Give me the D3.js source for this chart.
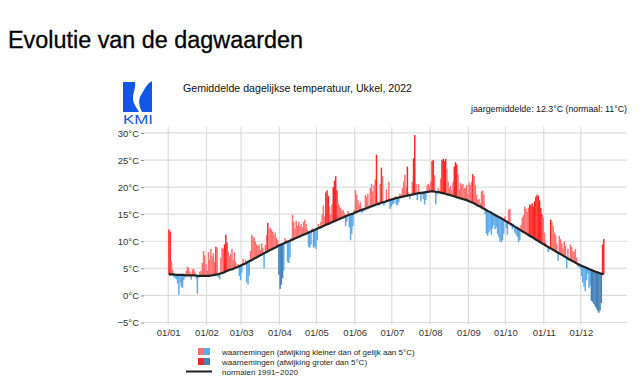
<!DOCTYPE html>
<html>
<head>
<meta charset="utf-8">
<script src="https://cdn.jsdelivr.net/npm/d3@7"></script>
<style>
  body { margin: 0; background: #fff; }
  text { font-family: "Liberation Sans", Arial, sans-serif; }
</style>
</head>
<body>
<div id="my_dataviz"></div>
<script>

// month labels and the day index (0 = 1 Jan) where each month starts
var maanden = ["01/01", "01/02", "01/03", "01/04", "01/05", "01/06", "01/07", "01/08", "01/09", "01/10", "01/11", "01/12"];
var maandStart = [0, 31, 59, 90, 120, 151, 181, 212, 243, 273, 304, 334];

var yTicks = [-5, 0, 5, 10, 15, 20, 25, 30];
var yLabels = ["\u22125°C", "0°C", "5°C", "10°C", "15°C", "20°C", "25°C", "30°C"];

// daily mean temperature Ukkel 2022 (1 Jan - 19 Dec)
var temp = [
  12.2, 11.8, 6.3, 4.8, 3.4, 3.2, 3.0, 2.2, 0.1, 2.4, 1.6, 1.4, 2.8, 3.3, 4.6, 5.3, 5.1, 4.4, 2.9, 4.8, 4.9, 4.4, 3.1, 0.3, 3.2, 4.4, 4.6, 6.0, 8.2, 7.4, 5.8,
  4.6, 8.0, 6.6, 8.6, 7.2, 7.8, 6.2, 9.0, 8.8, 3.4, 3.0, 7.0, 8.8, 8.6, 9.4, 11.2, 9.8, 8.0, 7.2, 7.6, 8.6, 6.6, 8.0, 6.2, 5.2, 5.8, 3.6, 2.8,
  4.2, 6.8, 5.8, 6.6, 2.4, 2.0, 3.6, 8.2, 11.2, 10.9, 10.6, 10.0, 9.4, 9.1, 9.4, 8.4, 9.6, 8.8, 5.0, 9.4, 11.2, 13.4, 12.2, 12.5, 12.2, 11.8, 11.2, 11.6, 10.6, 10.2, 3.8,
  1.2, 2.0, 3.2, 4.6, 10.6, 10.2, 6.2, 6.0, 7.0, 10.6, 14.9, 13.6, 12.4, 13.8, 12.9, 13.6, 12.8, 13.2, 12.6, 13.6, 14.0, 13.2, 12.2, 9.0, 8.8, 9.4, 12.4, 8.8, 9.0, 8.6,
  10.2, 13.2, 12.8, 13.6, 15.0, 16.6, 14.6, 19.0, 19.4, 18.4, 16.4, 15.0, 16.8, 20.0, 21.2, 22.0, 19.4, 17.0, 16.6, 16.2, 15.6, 15.8, 15.2, 12.8, 13.6, 15.6, 12.6, 10.2, 11.4, 12.8, 15.8,
  19.4, 18.6, 17.6, 16.8, 17.2, 15.2, 15.4, 15.6, 18.6, 18.2, 18.8, 16.0, 19.8, 20.6, 19.2, 20.4, 21.4, 26.0, 17.4, 16.6, 20.6, 23.6, 22.0, 16.6, 17.0, 19.6, 17.2, 21.0, 16.0, 16.4,
  16.8, 17.0, 18.3, 16.8, 16.6, 17.2, 18.8, 18.6, 19.8, 21.0, 22.3, 20.0, 23.8, 19.0, 17.8, 18.6, 21.0, 25.3, 29.6, 20.6, 17.6, 20.6, 19.2, 17.4, 18.6, 17.8, 16.8, 17.6, 20.4, 20.6, 20.2,
  21.0, 24.8, 25.0, 22.2, 16.8, 18.6, 19.8, 19.4, 21.6, 25.0, 25.2, 24.8, 25.2, 23.4, 21.0, 19.8, 20.2, 19.4, 21.0, 23.8, 24.6, 24.2, 22.4, 19.6, 20.8, 20.4, 20.6, 19.8, 19.8, 20.4, 18.8,
  20.8, 20.4, 21.0, 22.4, 22.0, 20.4, 18.6, 17.6, 17.8, 17.0, 19.2, 19.4, 18.6, 15.0, 11.4, 11.0, 11.6, 12.0, 11.2, 12.4, 13.0, 12.2, 12.6, 11.4, 10.8, 10.0, 9.8, 10.2, 11.4, 14.6,
  12.4, 11.2, 15.8, 16.0, 12.8, 12.2, 12.6, 11.6, 11.2, 10.8, 9.8, 10.2, 13.0, 14.4, 14.8, 16.4, 16.0, 15.4, 16.2, 16.8, 16.6, 17.0, 16.4, 17.4, 18.2, 18.6, 18.4, 17.6, 16.2, 15.0, 14.4,
  11.6, 9.8, 9.2, 8.0, 8.4, 14.0, 13.6, 12.8, 11.6, 11.2, 9.6, 6.4, 11.0, 10.4, 9.6, 8.8, 10.0, 9.2, 5.0, 8.6, 6.4, 9.4, 9.0, 8.2, 8.0, 8.6, 7.0, 5.4, 5.2, 5.0,
  3.6, 2.4, 1.6, 0.8, 2.8, 4.0, 1.4, 1.8, -1.0, -1.2, -1.6, -2.0, -2.4, -2.8, -3.2, -2.8, -1.4, 9.4, 10.4
];

// normals 1991-2020, same days
var normaal = [
  3.9, 3.9, 3.9, 3.9, 3.9, 3.8, 3.8, 3.8, 3.8, 3.8, 3.8, 3.8, 3.8, 3.7, 3.7, 3.7, 3.7, 3.7, 3.7, 3.7, 3.7, 3.7, 3.7, 3.6, 3.6, 3.6, 3.6, 3.6, 3.6, 3.6, 3.6,
  3.6, 3.6, 3.6, 3.7, 3.7, 3.7, 3.8, 3.8, 3.9, 3.9, 4.0, 4.1, 4.1, 4.2, 4.3, 4.4, 4.5, 4.6, 4.7, 4.8, 4.8, 4.9, 5.0, 5.1, 5.2, 5.3, 5.4, 5.5,
  5.6, 5.7, 5.8, 5.9, 6.0, 6.2, 6.3, 6.4, 6.5, 6.6, 6.8, 6.9, 7.0, 7.1, 7.3, 7.4, 7.5, 7.6, 7.8, 7.9, 8.0, 8.1, 8.2, 8.4, 8.5, 8.6, 8.7, 8.8, 8.9, 9.1, 9.2,
  9.3, 9.4, 9.5, 9.6, 9.7, 9.8, 9.9, 10.0, 10.1, 10.2, 10.3, 10.4, 10.5, 10.6, 10.7, 10.8, 10.9, 11.0, 11.1, 11.2, 11.3, 11.4, 11.5, 11.6, 11.7, 11.8, 11.9, 12.0, 12.1, 12.2,
  12.3, 12.4, 12.5, 12.6, 12.7, 12.8, 12.9, 13.0, 13.1, 13.2, 13.3, 13.4, 13.5, 13.6, 13.7, 13.8, 13.9, 14.0, 14.1, 14.2, 14.3, 14.4, 14.5, 14.6, 14.7, 14.8, 14.9, 15.0, 15.0, 15.1, 15.2,
  15.3, 15.4, 15.5, 15.6, 15.7, 15.8, 15.9, 15.9, 16.0, 16.1, 16.2, 16.3, 16.4, 16.4, 16.5, 16.6, 16.7, 16.8, 16.9, 16.9, 17.0, 17.1, 17.2, 17.2, 17.3, 17.4, 17.5, 17.5, 17.6, 17.7,
  17.8, 17.8, 17.9, 18.0, 18.0, 18.1, 18.1, 18.2, 18.2, 18.3, 18.3, 18.4, 18.4, 18.5, 18.5, 18.6, 18.6, 18.7, 18.7, 18.8, 18.8, 18.9, 18.9, 18.9, 19.0, 19.0, 19.0, 19.1, 19.1, 19.1, 19.2,
  19.2, 19.2, 19.2, 19.2, 19.1, 19.1, 19.1, 19.0, 19.0, 18.9, 18.9, 18.8, 18.8, 18.7, 18.6, 18.6, 18.5, 18.4, 18.4, 18.3, 18.2, 18.1, 18.1, 18.0, 17.9, 17.9, 17.8, 17.7, 17.7, 17.6, 17.5,
  17.4, 17.3, 17.2, 17.1, 17.0, 16.9, 16.7, 16.6, 16.5, 16.4, 16.3, 16.1, 16.0, 15.9, 15.8, 15.6, 15.5, 15.4, 15.3, 15.1, 15.0, 14.9, 14.7, 14.6, 14.5, 14.4, 14.2, 14.1, 14.0, 13.8,
  13.7, 13.6, 13.4, 13.3, 13.2, 13.0, 12.9, 12.7, 12.6, 12.5, 12.3, 12.2, 12.0, 11.9, 11.7, 11.6, 11.5, 11.3, 11.2, 11.0, 10.9, 10.8, 10.6, 10.5, 10.3, 10.2, 10.1, 9.9, 9.8, 9.6, 9.5,
  9.4, 9.2, 9.1, 9.0, 8.8, 8.7, 8.6, 8.4, 8.3, 8.2, 8.0, 7.9, 7.8, 7.6, 7.5, 7.4, 7.2, 7.1, 7.0, 6.8, 6.7, 6.6, 6.4, 6.3, 6.2, 6.1, 5.9, 5.8, 5.7, 5.6,
  5.5, 5.4, 5.3, 5.2, 5.1, 5.0, 4.9, 4.8, 4.7, 4.6, 4.5, 4.4, 4.3, 4.3, 4.2, 4.1, 4.0, 4.0, 3.9
];

var legendTexts = [
  "waarnemingen (afwijking kleiner dan of gelijk aan 5°C)",
  "waarnemingen (afwijking groter dan 5°C)",
  "normalen 1991\u22122020"
];

var kleur = {
  warmLicht: "#ff7070", warmDonker: "#ff2626",
  koudLicht: "#5dabea", koudDonker: "#4580b6"
};

var data = temp.map(function(t, i) { return {dag: i, t: t, n: normaal[i]}; });

var width = 640, height = 387;

var svg = d3.select("#my_dataviz")
  .append("svg")
    .attr("width", width)
    .attr("height", height);

svg.append("rect").attr("width", width).attr("height", height).attr("fill", "#fff");

// page title
svg.append("text")
  .attr("x", 8)
  .attr("y", 48)
  .attr("textLength", 295)
  .attr("lengthAdjust", "spacingAndGlyphs")
  .style("font-size", "23px")
  .style("fill", "#000")
  .style("stroke", "#000")
  .style("stroke-width", 0.3)
  .text("Evolutie van de dagwaarden");

// KMI logo
var logo = svg.append("g").attr("fill", "#1256e8");
logo.append("path")
  .attr("d", "M123,82 L135,82 C136,88 133,92 133,98 C133,104 137,108 139,112 L123,112 Z");
logo.append("path")
  .attr("d", "M152,81 L152,112 L142,112 C139,106 138,100 141,95 C144,90 146,86 149,83 Z");
logo.append("text")
  .attr("x", 123)
  .attr("y", 123.5)
  .attr("textLength", 30)
  .attr("lengthAdjust", "spacingAndGlyphs")
  .style("font-size", "13.5px")
  .style("fill", "#1256e8")
  .text("KMI");

svg.append("text")
  .attr("x", 183)
  .attr("y", 92)
  .attr("textLength", 229)
  .attr("lengthAdjust", "spacingAndGlyphs")
  .style("font-size", "10.8px")
  .style("fill", "#111")
  .text("Gemiddelde dagelijkse temperatuur, Ukkel, 2022");

svg.append("text")
  .attr("x", 627)
  .attr("y", 112)
  .attr("text-anchor", "end")
  .style("font-size", "8.8px")
  .style("fill", "#111")
  .text("jaargemiddelde: 12.3°C (normaal: 11°C)");

// scales
var x = d3.scaleLinear()
  .domain([-19.6, 371.4])
  .range([144, 627]);

var y = d3.scaleLinear()
  .domain([-5, 31.1])
  .range([322.5, 127]);

// grid
svg.append("g")
  .selectAll("line")
  .data(yTicks)
  .enter()
  .append("line")
    .attr("x1", 144).attr("x2", 627)
    .attr("y1", function(d) { return y(d); })
    .attr("y2", function(d) { return y(d); })
    .attr("stroke", "#dcdcdc")
    .attr("stroke-width", 1.2);

svg.append("g")
  .selectAll("line")
  .data(maandStart)
  .enter()
  .append("line")
    .attr("x1", function(d) { return x(d); })
    .attr("x2", function(d) { return x(d); })
    .attr("y1", 127).attr("y2", 325)
    .attr("stroke", "#dcdcdc")
    .attr("stroke-width", 1.2);

// Y axis
var yAxis = svg.append("g")
  .attr("transform", "translate(144,0)")
  .call(d3.axisLeft(y).tickValues(yTicks).tickSize(3).tickPadding(2)
    .tickFormat(function(d, i) { return yLabels[i]; }));
yAxis.select(".domain").remove();
yAxis.selectAll("line").attr("stroke", "#888");
yAxis.selectAll("text")
  .style("font-size", "9.5px")
  .style("font-family", "Liberation Sans, Arial, sans-serif")
  .attr("fill", "#333");

// X axis
var xAxis = svg.append("g")
  .attr("transform", "translate(0,322.5)")
  .call(d3.axisBottom(x).tickValues(maandStart).tickSize(0).tickPadding(7)
    .tickFormat(function(d, i) { return maanden[i]; }));
xAxis.select(".domain").remove();
xAxis.selectAll("text")
  .style("font-size", "9.5px")
  .style("font-family", "Liberation Sans, Arial, sans-serif")
  .attr("fill", "#333");

// bars between normal and observation
function barColor(d) {
  var dev = d.t - d.n;
  if (dev >= 0) return dev > 5 ? kleur.warmDonker : kleur.warmLicht;
  return dev < -5 ? kleur.koudDonker : kleur.koudLicht;
}

svg.append("g")
  .selectAll("rect")
  .data(data)
  .enter()
  .append("rect")
    .attr("x", function(d) { return x(d.dag); })
    .attr("width", function(d) { return x(d.dag + 1) - x(d.dag) + 0.25; })
    .attr("y", function(d) { return Math.min(y(d.t), y(d.n)); })
    .attr("height", function(d) { return Math.abs(y(d.t) - y(d.n)); })
    .attr("fill", barColor);

// normal curve
svg.append("path")
  .datum(data)
  .attr("fill", "none")
  .attr("stroke", "#222")
  .attr("stroke-width", 2.2)
  .attr("d", d3.line()
    .curve(d3.curveBasis)
    .x(function(d) { return x(d.dag + 0.5); })
    .y(function(d) { return y(d.n); })
  );

// legend
var legend = svg.append("g");
var swatches = [[kleur.warmLicht, kleur.koudLicht], [kleur.warmDonker, kleur.koudDonker]];
swatches.forEach(function(s, i) {
  legend.append("rect").attr("x", 198).attr("y", 348 + i * 10).attr("width", 6).attr("height", 7).attr("fill", s[0]);
  legend.append("rect").attr("x", 204).attr("y", 348 + i * 10).attr("width", 6).attr("height", 7).attr("fill", s[1]);
});
legend.append("line")
  .attr("x1", 186).attr("x2", 212)
  .attr("y1", 371.5).attr("y2", 371.5)
  .attr("stroke", "#222")
  .attr("stroke-width", 2);

legend.selectAll("text")
  .data(legendTexts)
  .enter()
  .append("text")
    .attr("x", 222)
    .attr("y", function(d, i) { return 354.5 + i * 10; })
    .style("font-size", "8px")
    .style("fill", "#222")
    .text(function(d) { return d; });

</script>
</body>
</html>
